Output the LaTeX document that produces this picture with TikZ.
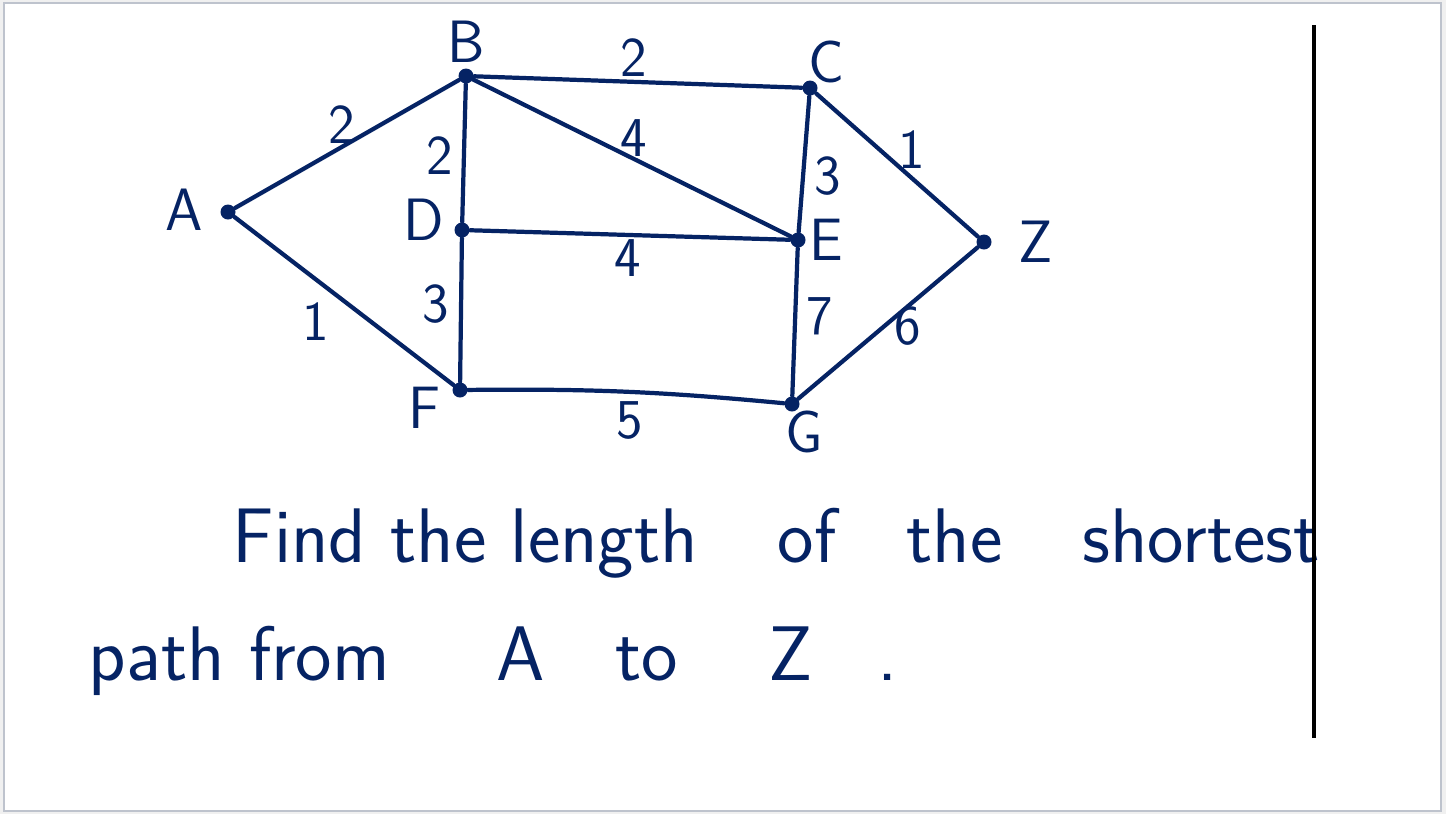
\documentclass[tikz,border=0pt]{standalone}
\usepackage{tikz}
\usetikzlibrary{positioning}
\definecolor{ink}{RGB}{5,35,100}
\definecolor{pagegray}{RGB}{240,240,240}
\definecolor{framegray}{RGB}{190,195,205}

\begin{document}
\begin{tikzpicture}[x=0.01cm, y=-0.01cm,
  vertex/.style={circle, fill=ink, inner sep=0pt, minimum size=0.15cm},
  edge/.style={ink, line width=1.2pt, line cap=round},
  vlabel/.style={text=ink, font=\sffamily\fontsize{17}{17}\selectfont},
  wlabel/.style={text=ink, font=\sffamily\fontsize{16}{16}\selectfont},
  note/.style={text=ink, font=\sffamily\fontsize{22}{22}\selectfont, inner sep=0pt}]
  \useasboundingbox (0,0) rectangle (1446,814);
  \fill[pagegray] (0,0) rectangle (1446,814);
  \draw[framegray, fill=white] (4,3) rectangle (1441,811);

  % vertices
  \node[vertex] (A) at (228,212) {};
  \node[vertex] (B) at (466,76) {};
  \node[vertex] (C) at (810,88) {};
  \node[vertex] (D) at (462,230) {};
  \node[vertex] (E) at (798,240) {};
  \node[vertex] (Z) at (984,242) {};
  \node[vertex] (F) at (460,390) {};
  \node[vertex] (G) at (792,404) {};

  \node[vlabel] (lA) at (184,210) {A};
  \node[vlabel] (lB) at (466,42) {B};
  \node[vlabel] (lC) at (826,62) {C};
  \node[vlabel] (lD) at (424,220) {D};
  \node[vlabel] (lE) at (826,240) {E};
  \node[vlabel] (lZ) at (1036,242) {Z};
  \node[vlabel] (lF) at (424,408) {F};
  \node[vlabel] (lG) at (804,432) {G};

  % edges
  \draw[edge] (A) -- (B);
  \draw[edge] (A) -- (F);
  \draw[edge] (B) -- (C);
  \draw[edge] (B) -- (D);
  \draw[edge] (B) -- (E);
  \draw[edge] (D) -- (E);
  \draw[edge] (D) -- (F);
  \draw[edge] (C) -- (E);
  \draw[edge] (C) -- (Z);
  \draw[edge] (E) -- (G);
  \draw[edge] (F) to[bend left=3] (G);
  \draw[edge] (G) -- (Z);

  % weights
  \node[wlabel] (wAB) at (342,125) {2};
  \node[wlabel] (wBC) at (634,58) {2};
  \node[wlabel] (wBD) at (440,156) {2};
  \node[wlabel] (wBE) at (634,138) {4};
  \node[wlabel] (wCE) at (828,176) {3};
  \node[wlabel] (wCZ) at (912,150) {1};
  \node[wlabel] (wDE) at (628,258) {4};
  \node[wlabel] (wAF) at (316,322) {1};
  \node[wlabel] (wDF) at (436,304) {3};
  \node[wlabel] (wEG) at (820,316) {7};
  \node[wlabel] (wGZ) at (908,326) {6};
  \node[wlabel] (wFG) at (630,420) {5};

  % question
  \node[note, anchor=base west] (q1) at (232,562)
    {Find the length\hspace{0.8cm}of\hspace{0.7cm}the\hspace{0.8cm}shortest};
  \node[note, anchor=base west] (q2) at (88,680)
    {path from\hspace{1.07cm}A\hspace{0.7cm}to\hspace{0.9cm}Z\hspace{0.65cm}.};

  \coordinate (rtop) at (1314,25);
  \coordinate (rbot) at (1314,738);
  \draw[black, line width=1.2pt] (rtop) -- (rbot);
\end{tikzpicture}
\end{document}
